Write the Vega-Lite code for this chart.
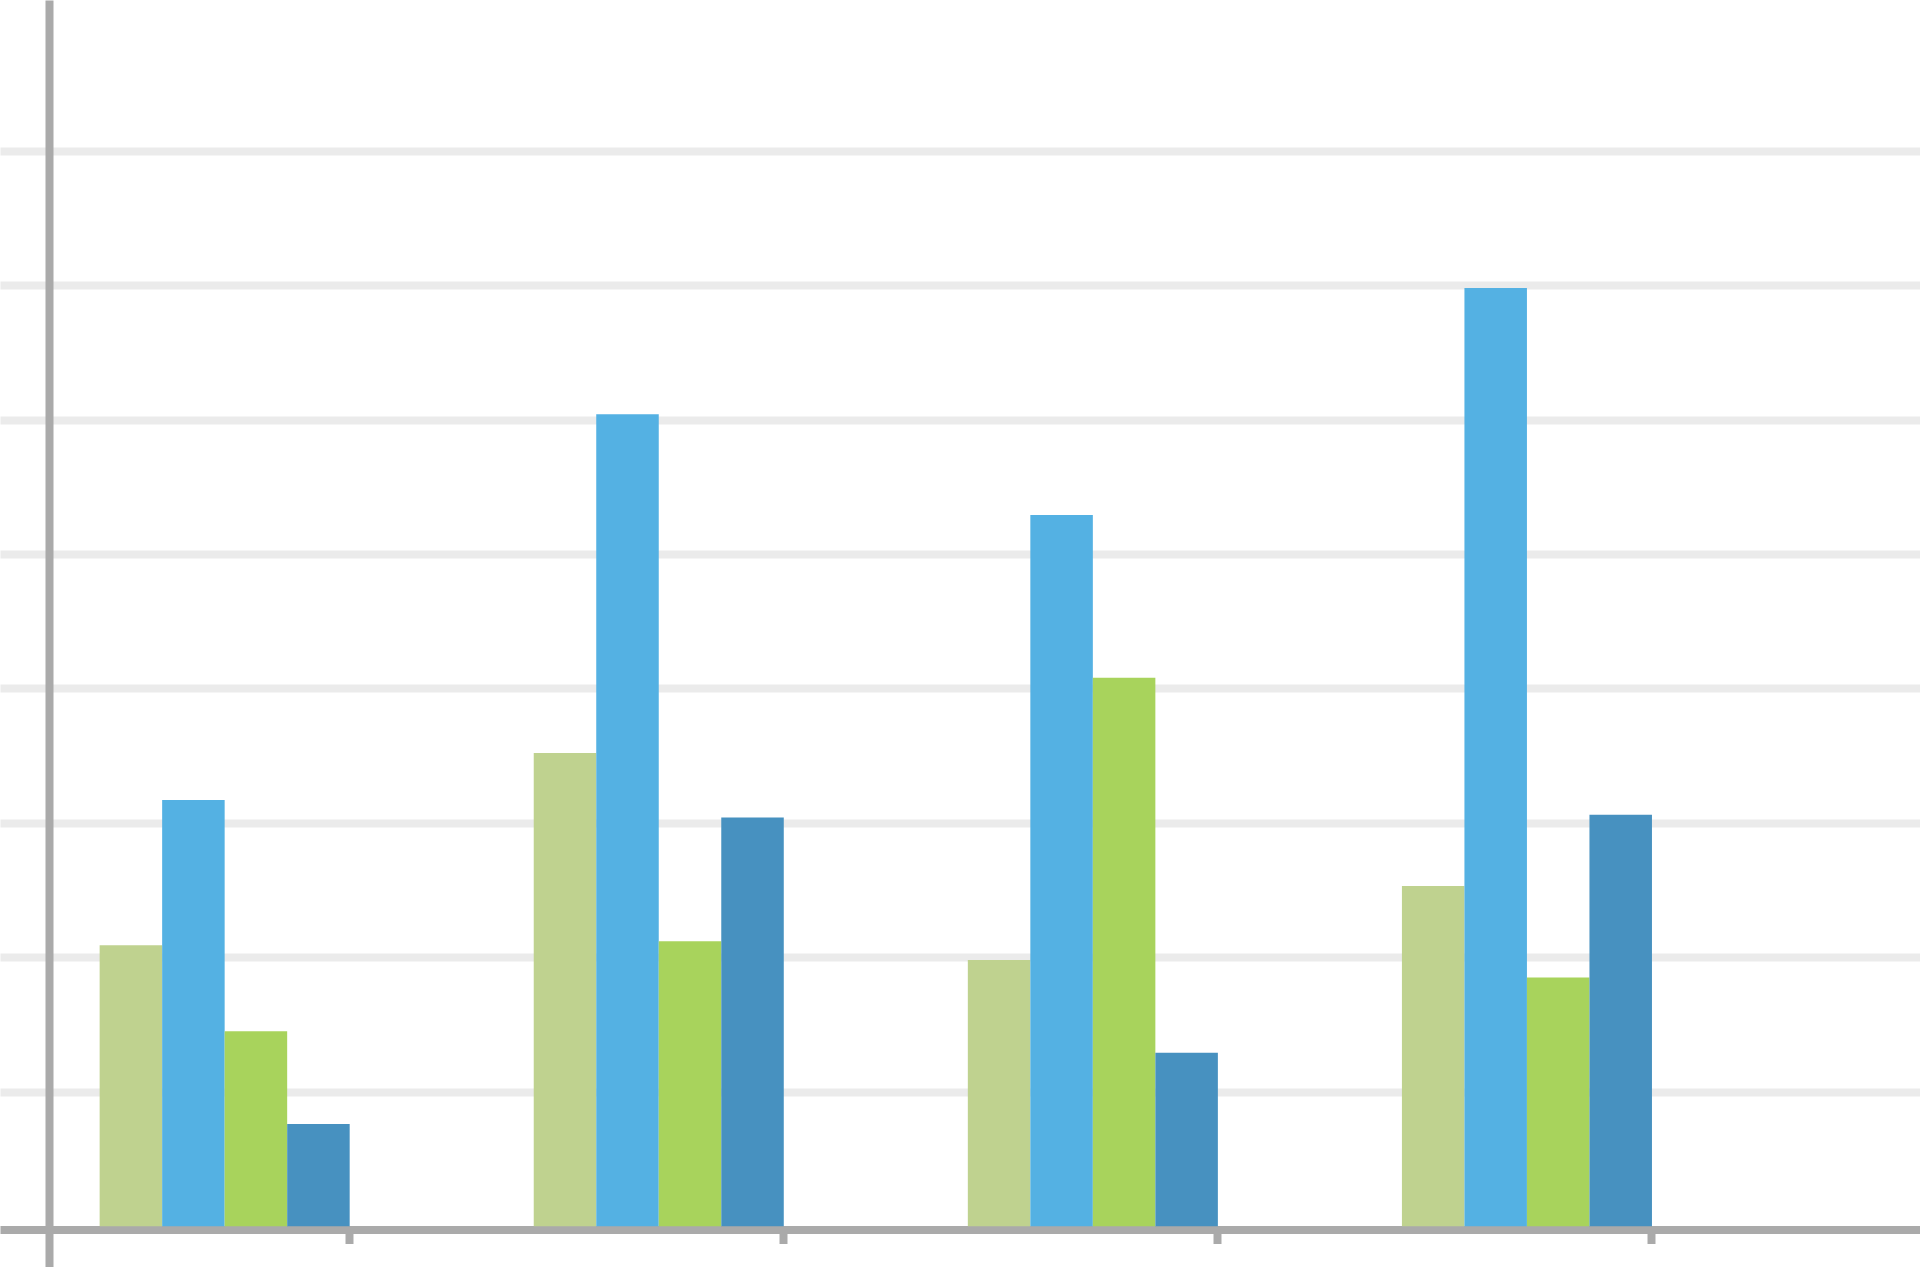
{
  "$schema": "https://vega.github.io/schema/vega-lite/v6.json",
  "width": 1920,
  "height": 1267,
  "autosize": {"type": "fit", "contains": "padding"},
  "padding": 0,
  "background": "white",
  "config": {"view": {"stroke": null}},
  "data": {
    "values": [
      {"group": "A", "series": "S1", "value": 20.9},
      {"group": "A", "series": "S2", "value": 31.7},
      {"group": "A", "series": "S3", "value": 14.5},
      {"group": "A", "series": "S4", "value": 7.6},
      {"group": "B", "series": "S1", "value": 35.2},
      {"group": "B", "series": "S2", "value": 60.4},
      {"group": "B", "series": "S3", "value": 21.2},
      {"group": "B", "series": "S4", "value": 30.4},
      {"group": "C", "series": "S1", "value": 19.8},
      {"group": "C", "series": "S2", "value": 52.9},
      {"group": "C", "series": "S3", "value": 40.8},
      {"group": "C", "series": "S4", "value": 12.9},
      {"group": "D", "series": "S1", "value": 25.3},
      {"group": "D", "series": "S2", "value": 69.8},
      {"group": "D", "series": "S3", "value": 18.5},
      {"group": "D", "series": "S4", "value": 30.6}
    ]
  },
  "mark": {"type": "bar"},
  "encoding": {
    "x": {
      "field": "group",
      "type": "nominal",
      "scale": {"paddingInner": 0.424, "paddingOuter": 0.4235, "align": 0.271},
      "axis": {
        "title": null,
        "labels": false,
        "grid": false,
        "domainColor": "#aaaaaa",
        "domainWidth": 8,
        "tickColor": "#aaaaaa",
        "tickWidth": 8,
        "tickSize": 14,
        "bandPosition": 1,
        "offset": -37.5
      }
    },
    "xOffset": {
      "field": "series",
      "type": "nominal",
      "scale": {"paddingInner": 0, "paddingOuter": 0}
    },
    "y": {
      "field": "value",
      "type": "quantitative",
      "scale": {"domain": [-3.04, 91.22], "nice": false, "zero": false},
      "axis": {
        "title": null,
        "labels": false,
        "ticks": false,
        "values": [10, 20, 30, 40, 50, 60, 70, 80],
        "grid": true,
        "gridColor": "#ebebeb",
        "gridWidth": 8,
        "domainColor": "#aaaaaa",
        "domainWidth": 8,
        "offset": -49
      }
    },
    "y2": {"datum": 0},
    "color": {
      "field": "series",
      "type": "nominal",
      "scale": {
        "domain": ["S1", "S2", "S3", "S4"],
        "range": ["#bfd28f", "#54b1e3", "#a8d35c", "#4791c0"]
      },
      "legend": null
    }
  }
}
